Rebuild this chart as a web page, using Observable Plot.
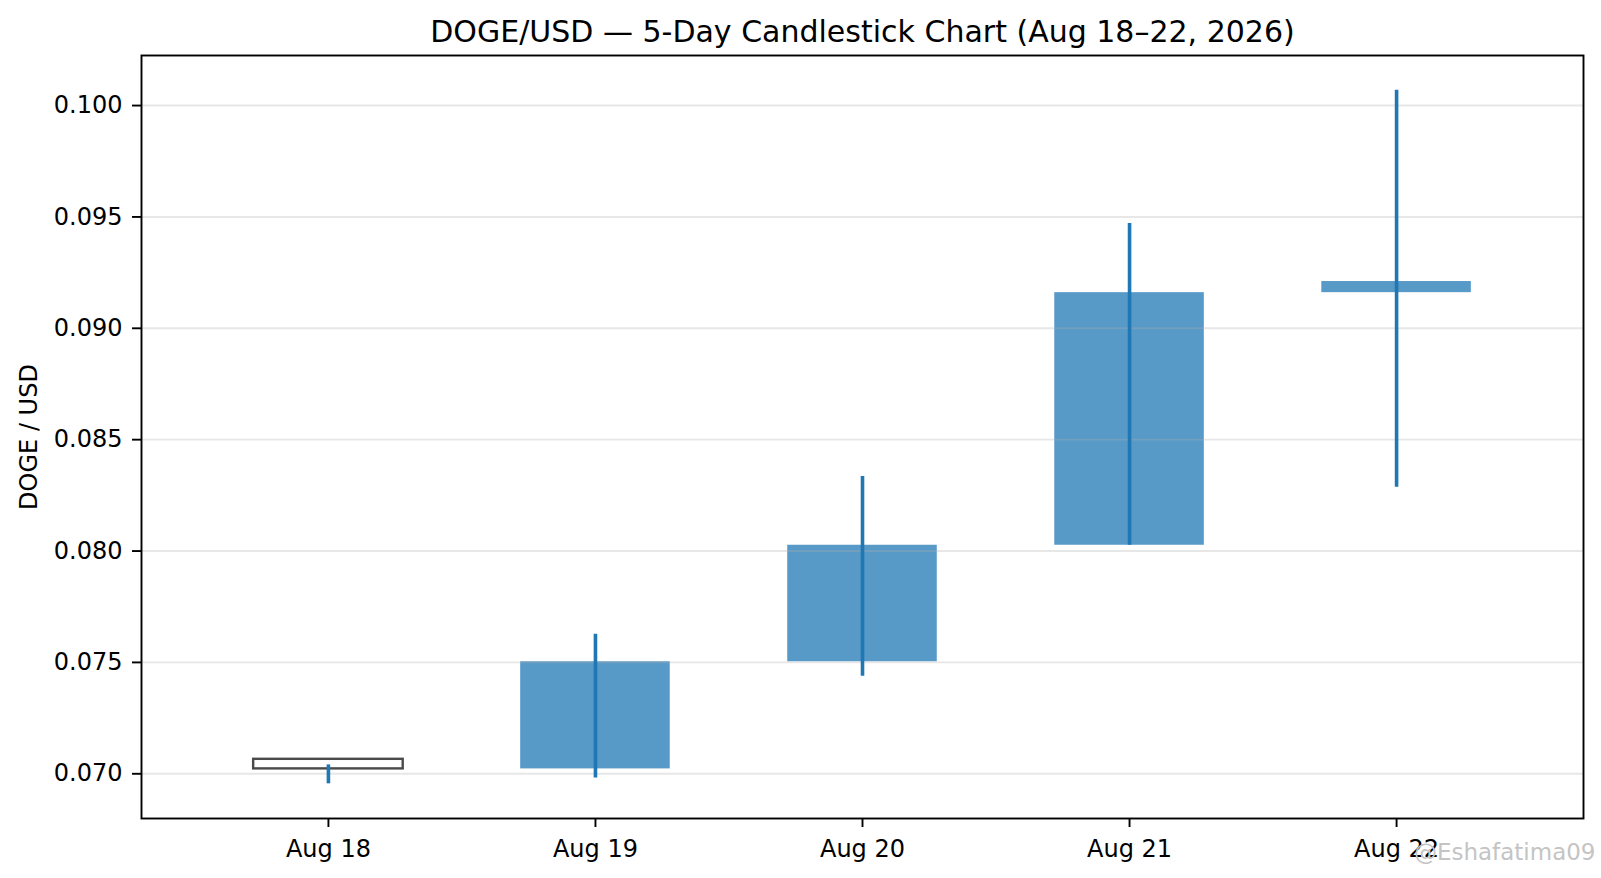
<!DOCTYPE html>
<html>
<head>
<meta charset="utf-8">
<script src="https://cdn.jsdelivr.net/npm/d3@7"></script>
<script src="https://cdn.jsdelivr.net/npm/@observablehq/plot@0.6"></script>
<style>
  html, body { margin: 0; padding: 0; background: #fff; }
</style>
</head>
<body>
<script>
const dates = ["Aug 18", "Aug 19", "Aug 20", "Aug 21", "Aug 22"];
const open  = [0.07065, 0.07022, 0.07503, 0.08026, 0.09160];
const close = [0.07022, 0.07503, 0.08026, 0.09160, 0.09210];
const high  = [0.07040, 0.07626, 0.08335, 0.09470, 0.10069];
const low   = [0.06955, 0.06981, 0.07438, 0.08026, 0.08286];
const yTicks = [0.070, 0.075, 0.080, 0.085, 0.090, 0.095, 0.100];

const title = "DOGE/USD — 5-Day Candlestick Chart (Aug 18–22, 2026)";
const yLabel = "DOGE / USD";
const watermark = "@Eshafatima09";

const data = dates.map((d, i) => ({
  i, date: d, open: open[i], close: close[i], high: high[i], low: low[i],
  up: close[i] >= open[i]
}));

const bodyHalf = 0.28;
const lo = d3.min(low), hi = d3.max(high), pad = (hi - lo) * 0.05;

const chart = Plot.plot({
  width: 1601,
  height: 878,
  marginLeft: 141,
  marginRight: 18,
  marginTop: 55,
  marginBottom: 60,
  style: { fontFamily: "DejaVu Sans", fontSize: "24px", background: "#fff", overflow: "visible" },
  x: { type: "linear", domain: [-0.7, 4.7] },
  y: { domain: [lo - pad, hi + pad] },
  marks: [
    Plot.rect(data.filter(d => d.up), {
      x1: d => d.i - bodyHalf, x2: d => d.i + bodyHalf,
      y1: "open", y2: "close",
      fill: "#1f77b4", fillOpacity: 0.75
    }),
    Plot.rect(data.filter(d => !d.up), {
      x1: d => d.i - bodyHalf, x2: d => d.i + bodyHalf,
      y1: "open", y2: "close",
      fill: "white", stroke: "#4a4a4a", strokeWidth: 2.4
    }),
    Plot.gridY(yTicks, { stroke: "#b0b0b0", strokeOpacity: 0.3, strokeWidth: 1.9 }),
    Plot.ruleX(data, { x: "i", y1: "low", y2: "high", stroke: "#1f77b4", strokeWidth: 3.6 }),
    Plot.axisY({
      ticks: yTicks, tickFormat: d3.format(".3f"), tickSize: 9, tickPadding: 10,
      label: null, fontSize: 24, strokeWidth: 1.9, color: "black"
    }),
    Plot.axisX({
      ticks: [0, 1, 2, 3, 4], tickFormat: i => dates[i], tickSize: 9, tickPadding: 12,
      label: null, fontSize: 24, strokeWidth: 1.9, color: "black"
    }),
    Plot.frame({ stroke: "black", strokeWidth: 1.9 }),
    Plot.text([title], {
      text: d => d, frameAnchor: "top", lineAnchor: "bottom", dy: -14,
      fontSize: 30, fill: "black"
    }),
    Plot.text([yLabel], {
      text: d => d, frameAnchor: "left", rotate: -90, dx: -112,
      textAnchor: "middle", lineAnchor: "middle", fontSize: 24, fill: "black"
    }),
    Plot.text([watermark], {
      text: d => d, frameAnchor: "bottom-right", textAnchor: "end", lineAnchor: "bottom",
      dx: 12, dy: 41, fontSize: 23, fill: "#c4c4c4"
    })
  ]
});

document.body.appendChild(chart);
</script>
</body>
</html>
